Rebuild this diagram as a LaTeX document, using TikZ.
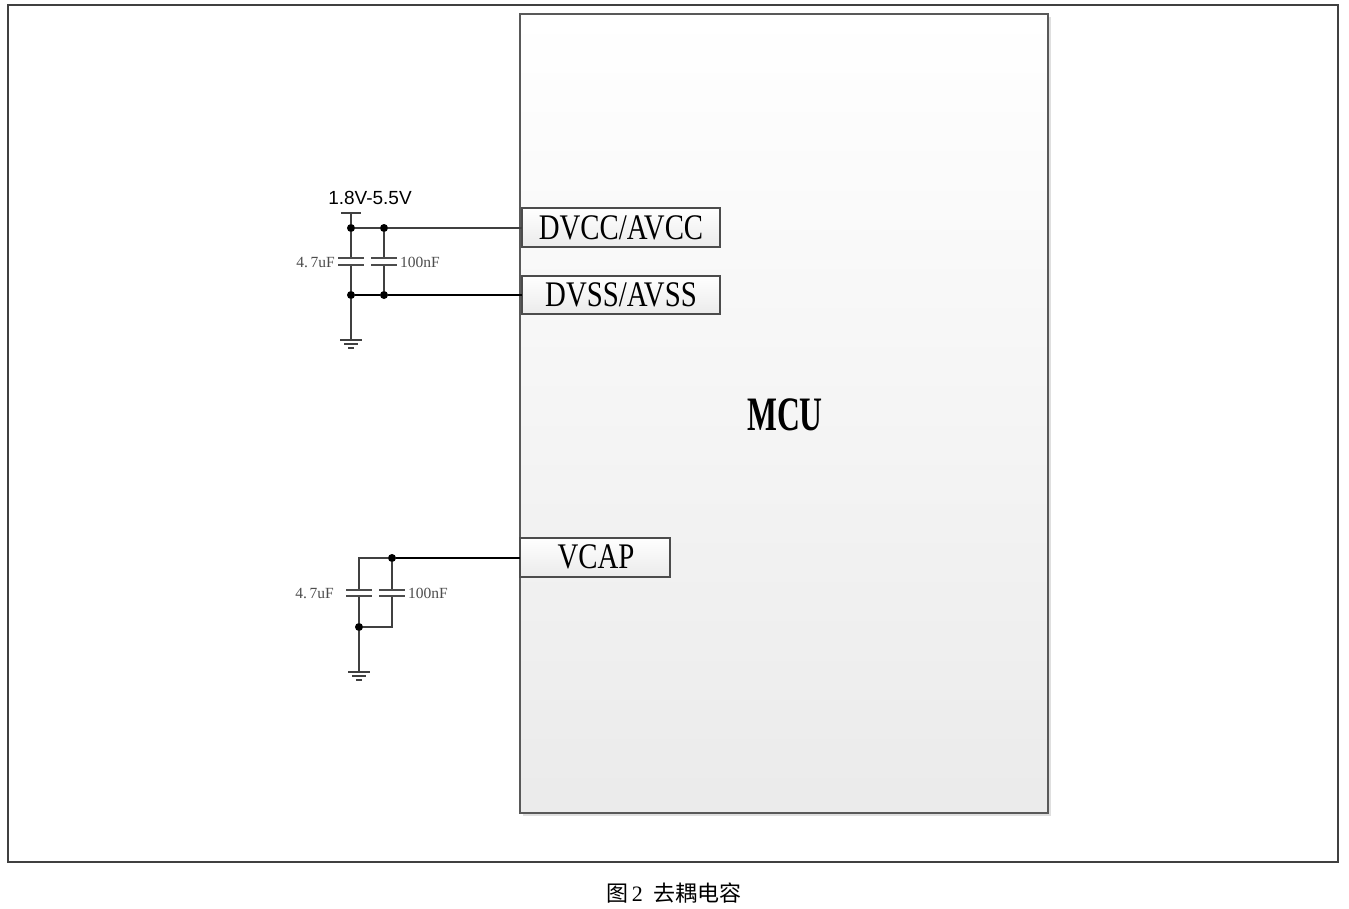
\documentclass[tikz,border=0pt]{standalone}
\usepackage{fontspec}
\setmainfont{Liberation Serif}
\newfontfamily\cjk{Noto Sans CJK SC}
\newfontfamily\sansf{Liberation Sans}
\usetikzlibrary{shadows}
\tikzset{
 wire/.style={line width=1.6pt,draw=black!75},
 dotn/.style={circle,fill=black,inner sep=0pt,minimum size=8pt},
 pin/.style={draw=black!70,line width=1.3pt,fill=white,top color=white,bottom color=black!8},
 plate/.style={line width=2pt,draw=black!70},
 capl/.style={font=\fontsize{15.5}{15.5}\selectfont,text=black!70,inner sep=1pt},
 pinl/.style={font=\fontsize{36}{36}\selectfont,inner sep=0pt}
}
\begin{document}
\begin{tikzpicture}[x=1pt,y=-1pt]
\useasboundingbox (0,0) rectangle (1349,908);
\draw[line width=1.3pt,draw=black!75] (8,5) rectangle (1338,862);
\draw[line width=1.5pt,draw=black!65,top color=white,bottom color=black!8,drop shadow={opacity=0.25,shadow xshift=3pt,shadow yshift=-3pt}] (520,14) rectangle (1048,813);
\node[font=\bfseries\fontsize{48}{48}\selectfont] (mcu) at (785,415) {\scalebox{0.66}[1]{MCU}};
% pins
\draw[pin] (522,208) rectangle (720,247);
\node[pinl] (dvcc) at (621,228) {\scalebox{0.8}[1]{DVCC/AVCC}};
\draw[pin] (522,276) rectangle (720,314);
\node[pinl] (dvss) at (621,295) {\scalebox{0.8}[1]{DVSS/AVSS}};
\draw[pin] (520,538) rectangle (670,577);
\node[pinl] (vcap) at (596,557) {\scalebox{0.8}[1]{VCAP}};
% top circuit
\coordinate (pt) at (351,213);
\node[font=\sansf\fontsize{19}{19}\selectfont] (vlab) at (370,198) {1.8V-5.5V};
\draw[wire] (341,213) -- (361,213);
\node[dotn] (a1) at (351,228) {};
\node[dotn] (a2) at (384,228) {};
\node[dotn] (b1) at (351,295) {};
\node[dotn] (b2) at (384,295) {};
\draw[wire] (pt) -- (a1) -- (351,258);
\draw[wire] (351,265) -- (b1) -- (351,340);
\draw[wire] (a2) -- (384,258);
\draw[wire] (384,265) -- (b2);
\draw[wire] (a1) -- (a2) -- (522,228);
\draw[wire,draw=black] (b1) -- (b2) -- (522,295);
\foreach \x in {351,384}{\draw[plate] (\x-13,258) -- (\x+13,258); \draw[plate] (\x-13,265) -- (\x+13,265);}
\draw[wire] (340,340) -- (362,340) (344,344) -- (358,344) (348,348) -- (354,348);
\node[capl,anchor=east] (c1l) at (336,263) {4.\,7uF};
\node[capl,anchor=west] (c2l) at (399,262) {100nF};
% vcap circuit
\node[dotn] (v2) at (392,558) {};
\node[dotn] (g1) at (359,627) {};
\draw[wire] (359,590) -- (359,558) -- (v2);
\draw[wire,draw=black] (v2) -- (520,558);
\draw[wire] (v2) -- (392,590);
\draw[wire] (359,596) -- (g1) -- (359,672);
\draw[wire] (392,596) -- (392,627) -- (g1);
\foreach \x in {359,392}{\draw[plate] (\x-13,590) -- (\x+13,590); \draw[plate] (\x-13,596) -- (\x+13,596);}
\draw[wire] (348,672) -- (370,672) (352,676) -- (366,676) (356,680) -- (362,680);
\node[capl,anchor=east] (c3l) at (335,593) {4.\,7uF};
\node[capl,anchor=west] (c4l) at (407,593) {100nF};
% caption
\node[font=\fontsize{22}{22}\selectfont] (cap) at (674,893) {{\cjk 图}\,2\enspace{\cjk 去耦电容}};
\end{tikzpicture}
\end{document}
